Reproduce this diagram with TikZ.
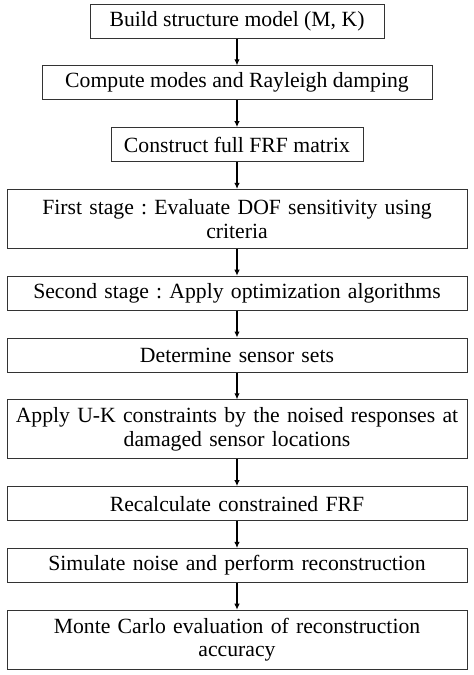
\documentclass[tikz,border=0pt]{standalone}
\usepackage{fontspec}
\setmainfont{Liberation Serif}
\frenchspacing
\usetikzlibrary{positioning,chains,arrows.meta}
\tikzset{
>={Latex[length=6pt,width=5.5pt]},
  stepbox/.style={
    rectangle,
    draw=black!80, line width=1pt,
    minimum height=34pt,
    inner xsep=4pt, inner ysep=3pt,
    align=center,
    font=\fontsize{21.7}{23.5}\selectfont,
    on chain},
  widebox/.style={stepbox, text width=452pt},
  twoline/.style={widebox, minimum height=59pt},
  every join/.style={->, line width=1.1pt},
}
\begin{document}
\begin{tikzpicture}[node distance=26.8pt, start chain=going below,]
		\useasboundingbox (0,0) rectangle (474pt,-675pt);
		\node[stepbox, minimum width=294pt] at (237pt,-21pt) (build-model) {Build structure model (M, K)};
		\node[stepbox, minimum width=390pt, join] (modes) {Compute modes and Rayleigh damping};
		\node[stepbox, minimum width=252pt, join] (full-frf) {Construct full FRF matrix};
		\node[twoline, join] (first-stage) {First stage : Evaluate DOF sensitivity using\\criteria};
		\node[widebox, join] (second-stage) {Second stage : Apply optimization algorithms};
		\node[widebox, join] (sensor-sets) {Determine sensor sets};
		\node[twoline, join] (uk-constraints) {Apply U-K constraints by the noised responses at\\damaged sensor locations};
		\node[widebox, join] (constrained-frf) {Recalculate constrained FRF};
		\node[widebox, join] (noise) {Simulate noise and perform reconstruction};
		\node[twoline, join] (monte-carlo) {Monte Carlo evaluation of reconstruction\\accuracy};
	\end{tikzpicture}
\end{document}
